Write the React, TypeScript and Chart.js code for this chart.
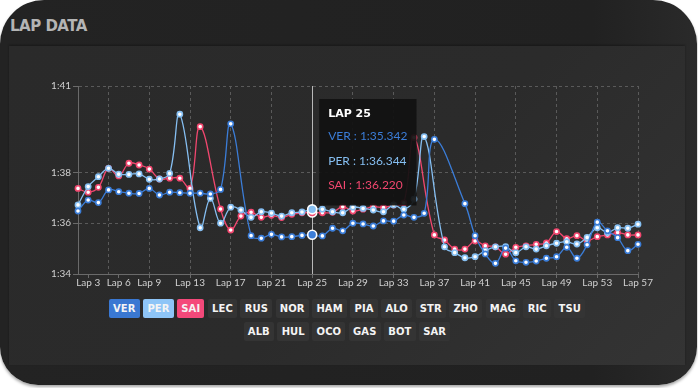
import React, { useEffect, useRef } from 'react';
import { Chart, registerables, Tooltip } from 'chart.js';

Chart.register(...registerables);

const lapLabels = [
  'Lap 2', 'Lap 3', 'Lap 4', 'Lap 5', 'Lap 6', 'Lap 7', 'Lap 8', 'Lap 9', 'Lap 10', 'Lap 11',
  'Lap 12', 'Lap 13', 'Lap 14', 'Lap 15', 'Lap 16', 'Lap 17', 'Lap 18', 'Lap 19', 'Lap 20', 'Lap 21',
  'Lap 22', 'Lap 23', 'Lap 24', 'Lap 25', 'Lap 26', 'Lap 27', 'Lap 28', 'Lap 29', 'Lap 30', 'Lap 31',
  'Lap 32', 'Lap 33', 'Lap 34', 'Lap 35', 'Lap 36', 'Lap 37', 'Lap 38', 'Lap 39', 'Lap 40', 'Lap 41',
  'Lap 42', 'Lap 43', 'Lap 44', 'Lap 45', 'Lap 46', 'Lap 47', 'Lap 48', 'Lap 49', 'Lap 50', 'Lap 51',
  'Lap 52', 'Lap 53', 'Lap 54', 'Lap 55', 'Lap 56', 'Lap 57',
];

// lap times in seconds
const verTimes = [
  96.28, 96.71, 96.61, 97.11, 97.04, 96.98, 96.97, 97.17, 96.91, 97.02,
  97.0, 96.98, 96.98, 96.95, 97.13, 99.71, null, 95.31, 95.21, 95.36,
  95.26, 95.27, 95.32, 95.342, 95.3, 95.6, 95.5, 95.8, 95.77, 95.69,
  95.89, 95.88, 96.12, 96.03, 96.19, 99.1, null, null, 96.57, 95.31,
  94.59, 94.22, 94.82, 94.32, 94.26, 94.31, 94.42, 94.48, 94.85, 94.42,
  94.95, 95.84, 95.5, 95.23, 94.72, 94.97,
];
const perTimes = [
  96.52, 97.24, 97.63, 97.96, 97.73, 97.72, 97.74, 97.53, 97.54, 97.76,
  100.09, null, 95.62, 96.78, 95.8, 96.43, 96.32, 96.03, 96.25, 96.2,
  96.08, 96.21, 96.24, 96.344, 96.35, 96.25, 96.21, 96.43, 96.38, 96.32,
  96.25, 96.52, 96.35, 96.75, 99.21, null, 94.87, 94.64, 94.44, 94.48,
  94.72, 94.87, 94.88, 94.64, 94.87, 94.78, 94.91, 95.01, 95.07, 94.98,
  95.24, 95.62, 95.43, 95.62, 95.6, 95.76,
];
const saiTimes = [
  97.17, 97.02, 97.21, 97.96, 97.66, 98.16, 98.09, 97.93, 97.54, 97.57,
  97.57, 97.17, 99.6, null, 96.36, 95.53, 96.08, 96.23, 96.03, 96.11,
  96.02, 96.15, 96.21, 96.22, 96.21, 96.23, 96.45, 96.28, 96.35, 96.45,
  96.42, 96.52, 96.6, 99.17, null, 95.34, 95.14, 94.78, 94.78, 95.1,
  94.91, 94.87, 94.58, 94.85, 94.91, 94.97, 95.02, 95.47, 95.19, 95.31,
  95.11, 95.27, 95.34, 95.43, 95.34, 95.34,
];

const seriesNames = ['VER', 'PER', 'SAI'];
const seriesColors = ['#3b7dd8', '#86bff2', '#f2476f'];

const xTickLabels = [
  'Lap 3', 'Lap 6', 'Lap 9', 'Lap 13', 'Lap 17', 'Lap 21', 'Lap 25', 'Lap 29',
  'Lap 33', 'Lap 37', 'Lap 41', 'Lap 45', 'Lap 49', 'Lap 53', 'Lap 57',
];
const xGridLabels = [
  'Lap 5', 'Lap 9', 'Lap 13', 'Lap 17', 'Lap 21', 'Lap 25', 'Lap 29', 'Lap 33',
  'Lap 37', 'Lap 41', 'Lap 45', 'Lap 49', 'Lap 53', 'Lap 57',
];
const yTickValues = [93.8, 95.8, 97.8, 101.2];
const yTickLabels = ['1:34', '1:36', '1:38', '1:41'];
const yMin = 93.8;
const yMax = 101.2;
const activeLap = 'Lap 25';

const driversRow1 = ['VER', 'PER', 'SAI', 'LEC', 'RUS', 'NOR', 'HAM', 'PIA', 'ALO', 'STR', 'ZHO', 'MAG', 'RIC', 'TSU'];
const driversRow2 = ['ALB', 'HUL', 'OCO', 'GAS', 'BOT', 'SAR'];
const buttonColors: Record<string, string> = { VER: '#3a78d2', PER: '#8ec5f7', SAI: '#f4497a' };

const fmtTime = (v: number) => {
  const m = Math.floor(v / 60);
  const s = v - m * 60;
  return `${m}:${s.toFixed(3).padStart(6, '0')}`;
};

(Tooltip as any).positioners.lapTop = function (items: any[]) {
  if (!items || !items.length) return false;
  const chart = (this as any).chart;
  return {
    x: items[0].element.x + 7,
    y: chart.chartArea.top + 13,
    xAlign: 'left',
    yAlign: 'top',
  };
};

const crosshair = {
  id: 'crosshair',
  beforeDatasetsDraw(chart: any) {
    const act = chart.tooltip && chart.tooltip.getActiveElements ? chart.tooltip.getActiveElements() : [];
    if (!act || !act.length) return;
    const x = Math.round(act[0].element.x) + 0.5;
    const { top, bottom } = chart.chartArea;
    const ctx = chart.ctx;
    ctx.save();
    ctx.strokeStyle = '#b8b8b8';
    ctx.lineWidth = 1;
    ctx.beginPath();
    ctx.moveTo(x, top);
    ctx.lineTo(x, bottom);
    ctx.stroke();
    ctx.restore();
  },
};

function LapChart() {
  const ref = useRef<HTMLCanvasElement | null>(null);
  useEffect(() => {
    if (!ref.current) return;
    const series = [verTimes, perTimes, saiTimes];
    const chart = new Chart(ref.current, {
      type: 'line',
      data: {
        labels: lapLabels,
        datasets: series.map((d, i) => ({
          label: seriesNames[i],
          data: d,
          borderColor: seriesColors[i],
          backgroundColor: seriesColors[i],
          borderWidth: 1.3,
          pointRadius: 2.6,
          pointBorderWidth: 1.6,
          pointBackgroundColor: '#ffffff',
          pointBorderColor: seriesColors[i],
          pointHoverRadius: 4.5,
          pointHoverBorderWidth: 1.6,
          pointHoverBackgroundColor: seriesColors[i],
          pointHoverBorderColor: '#ffffff',
          tension: 0.4,
          spanGaps: true,
          fill: false,
        })),
      },
      options: {
        responsive: false,
        animation: false,
        events: [],
        layout: { padding: { left: 0, right: 47, top: 40, bottom: 2 } },
        plugins: {
          legend: { display: false },
          tooltip: {
            enabled: true,
            position: 'lapTop' as any,
            mode: 'index',
            intersect: false,
            backgroundColor: 'rgba(17,17,17,0.93)',
            cornerRadius: 0,
            caretSize: 0,
            caretPadding: 0,
            displayColors: false,
            padding: { top: 9, bottom: 13, left: 9, right: 9 },
            titleFont: { family: 'DejaVu Sans', weight: 'bold', size: 11 },
            titleColor: '#ffffff',
            titleMarginBottom: 8,
            bodyFont: { family: 'Lato', size: 12 },
            bodySpacing: 10,
            callbacks: {
              title: (items: any[]) => (items.length ? String(items[0].label).toUpperCase() : ''),
              label: (item: any) => `${item.dataset.label} : ${fmtTime(item.parsed.y)}`,
              labelTextColor: (item: any) => seriesColors[item.datasetIndex],
            },
          },
        },
        scales: {
          x: {
            type: 'category',
            offset: false,
            afterFit: (s: any) => {
              s.height = 20;
            },
            border: { display: true, color: '#6a6a6a', width: 1, dash: [3, 3] },
            grid: {
              drawOnChartArea: true,
              tickLength: 4,
              color: (ctx: any) => (xGridLabels.includes(lapLabels[ctx.index]) ? '#5a5a5a' : 'rgba(0,0,0,0)'),
              tickColor: (ctx: any) => (xTickLabels.includes(lapLabels[ctx.index]) ? '#6a6a6a' : 'rgba(0,0,0,0)'),
              tickBorderDash: [],
            },
            ticks: {
              autoSkip: false,
              maxRotation: 0,
              minRotation: 0,
              padding: -1,
              color: '#d0d0d0',
              font: { family: 'Lato', size: 10 },
              callback: (_v: any, i: number) => (xTickLabels.includes(lapLabels[i]) ? lapLabels[i] : ''),
            },
          },
          y: {
            type: 'linear',
            min: yMin,
            max: yMax,
            afterBuildTicks: (s: any) => {
              s.ticks = yTickValues.map((v) => ({ value: v }));
            },
            afterFit: (s: any) => {
              s.width = 69;
            },
            border: { display: true, color: '#6a6a6a', width: 1, dash: [3, 3] },
            grid: {
              color: '#5a5a5a',
              tickLength: 5,
              tickColor: '#6a6a6a',
              tickBorderDash: [],
            },
            ticks: {
              padding: 2,
              color: '#d0d0d0',
              font: { family: 'Lato', size: 10 },
              callback: (_v: any, i: number) => yTickLabels[i],
            },
          },
        },
      },
      plugins: [crosshair],
    } as any);

    const idx = lapLabels.indexOf(activeLap);
    const active = series.map((_, d) => ({ datasetIndex: d, index: idx }));
    chart.setActiveElements(active);
    chart.tooltip!.setActiveElements(active, { x: 0, y: 0 });
    chart.update();
    return () => chart.destroy();
  }, []);

  return (
    <canvas
      ref={ref}
      width={676}
      height={250}
      style={{ position: 'absolute', left: 9, top: 46, width: 676, height: 250 }}
    />
  );
}

function LegendButton({ name }: { name: string }) {
  const bg = buttonColors[name] || '#343434';
  return (
    <div
      style={{
        background: bg,
        color: '#f4f4f4',
        fontFamily: '"DejaVu Sans", sans-serif',
        fontWeight: 'bold',
        fontSize: 10,
        height: 19,
        lineHeight: '19px',
        padding: '0 4.2px',
        borderRadius: 2,
        letterSpacing: '0.1px',
      }}
    >
      {name}
    </div>
  );
}

export default function App() {
  const rowStyle: React.CSSProperties = {
    position: 'absolute',
    left: 0,
    width: 694,
    display: 'flex',
    justifyContent: 'center',
    gap: 3.4,
  };
  return (
    <div style={{ position: 'fixed', left: 0, top: 0, width: 698, height: 388, background: '#ffffff', overflow: 'hidden' }}>
      <div
        style={{
          position: 'absolute',
          left: 0,
          top: 0,
          width: 697,
          height: 385,
          borderRadius: '44px 44px 38px 38px',
          background: 'linear-gradient(90deg, #232323 0%, #212121 85%, #2a2a2a 100%)',
          boxShadow: '0 2px 3px rgba(0,0,0,0.35)',
        }}
      >
        <div
          style={{
            position: 'absolute',
            left: 10,
            top: 17,
            fontFamily: '"DejaVu Sans", sans-serif',
            fontWeight: 'bold',
            fontSize: 15,
            color: '#b4b4b4',
            letterSpacing: '-0.5px',
          }}
        >
          LAP DATA
        </div>
        <div
          style={{
            position: 'absolute',
            left: 9,
            top: 46,
            width: 676,
            height: 319,
            background: 'linear-gradient(135deg, #2a2a2a 0%, #2b2b2b 55%, #343434 100%)',
            boxShadow: '0 -1px 2px rgba(0,0,0,0.3)',
          }}
        />
        <LapChart />
        <div style={{ ...rowStyle, top: 299 }}>
          {driversRow1.map((d) => (
            <LegendButton key={d} name={d} />
          ))}
        </div>
        <div style={{ ...rowStyle, top: 322 }}>
          {driversRow2.map((d) => (
            <LegendButton key={d} name={d} />
          ))}
        </div>
      </div>
    </div>
  );
}
